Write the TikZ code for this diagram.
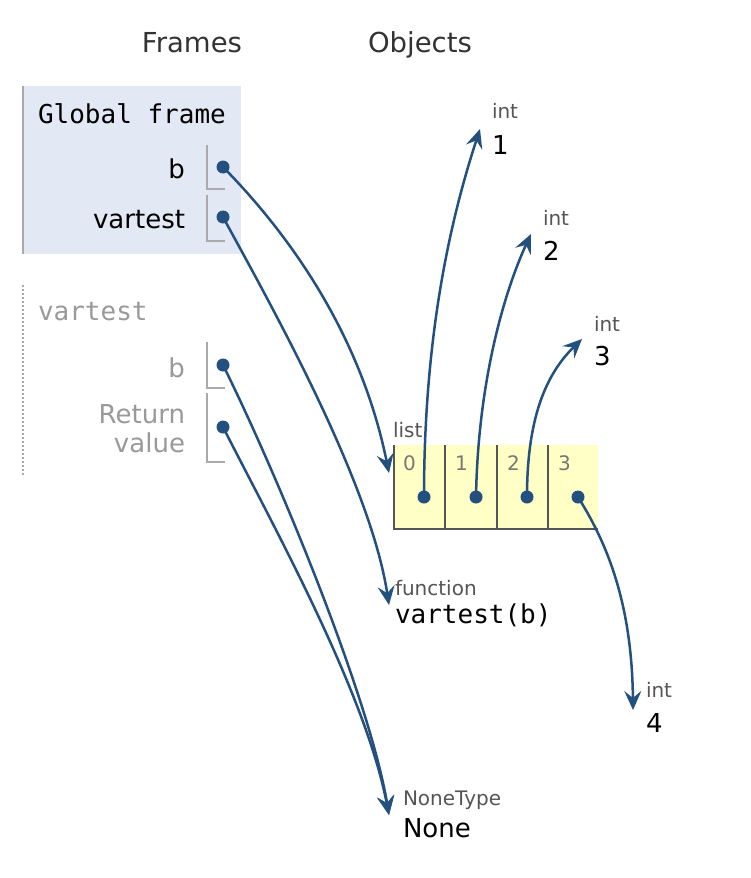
\documentclass[tikz,border=0pt]{standalone}
\usepackage{fontspec}
\setmainfont{DejaVu Sans}
\setmonofont{DejaVu Sans Mono}
\usetikzlibrary{arrows.meta}
\definecolor{arrowc}{HTML}{23507F}
\definecolor{framebg}{HTML}{E2E9F4}
\definecolor{brk}{HTML}{AAAAAA}
\definecolor{listfill}{HTML}{FFFFC6}
\definecolor{listline}{HTML}{555555}
\definecolor{typec}{HTML}{555555}
\definecolor{idxc}{HTML}{777777}
\definecolor{stalec}{HTML}{999999}
\definecolor{hdrc}{HTML}{333333}
\tikzset{reftip/.tip={Stealth[length=19pt,width=17pt,inset=7pt]}}
\begin{document}
\begin{tikzpicture}[x=1pt,y=-1pt,
  every node/.style={inner sep=0pt, outer sep=0pt},
  bigtext/.style={font=\fontsize{26}{30}\selectfont},
  monotext/.style={font=\ttfamily\fontsize{26}{30}\selectfont},
  typelabel/.style={font=\fontsize{20}{24}\selectfont, text=typec, anchor=base west},
  idxlabel/.style={font=\fontsize{20}{24}\selectfont, text=idxc, anchor=base west},
  hdr/.style={font=\fontsize{27.5}{32}\selectfont, text=hdrc, anchor=base},
  bracket/.style={draw=brk, line width=2.2pt},
  dot/.style={circle, fill=arrowc, minimum size=13pt},
  ref/.style={draw=arrowc, line width=2.5pt, -reftip},
  lline/.style={draw=listline, line width=2.8pt}
]
\useasboundingbox (0,0) rectangle (750,878);

% headers
\node[hdr] (hframes) at (192,52) {Frames};
\node[hdr] (hobjects) at (420,52) {Objects};

% global frame
\fill[framebg] (22,86) rectangle (241,254);
\draw[draw=brk, line width=2.2pt] (23,86) -- (23,254);
\node[monotext, anchor=base west] (gframe) at (38,123) {Global frame};
\node[bigtext, anchor=base east] (gbname) at (185,178) {b};
\node[bigtext, anchor=base east] (gvname) at (185,228) {vartest};
\draw[bracket] (207,145) -- (207,189) -- (225,189);
\draw[bracket] (207,195) -- (207,241) -- (225,241);
\node[dot] (gb) at (223,167) {};
\node[dot] (gv) at (223,217) {};

% vartest frame
\draw[draw=brk, line width=2.2pt, dash pattern=on 2pt off 2pt] (23,285) -- (23,475);
\node[monotext, text=stalec, anchor=base west] (vframe) at (38,320) {vartest};
\node[bigtext, text=stalec, anchor=base east] (vbname) at (185,377) {b};
\node[bigtext, text=stalec, anchor=base east] (vrname1) at (185,423) {Return};
\node[bigtext, text=stalec, anchor=base east] (vrname2) at (185,452) {value};
\draw[bracket] (207,342) -- (207,388) -- (225,388);
\draw[bracket] (207,393) -- (207,462) -- (225,462);
\node[dot] (vb) at (223,365) {};
\node[dot] (vr) at (223,427) {};

% list
\node[typelabel] (listlbl) at (393,437) {list};
\node[fill=listfill, minimum width=204pt, minimum height=84pt] (lst) at (496,487) {};
\draw[lline] (394,445) -- (394,529) -- (598,529);
\draw[lline] (445,445) -- (445,529);
\draw[lline] (497,445) -- (497,529);
\draw[lline] (548,445) -- (548,529);
\node[idxlabel] (i0) at (403,470) {0};
\node[idxlabel] (i1) at (455,470) {1};
\node[idxlabel] (i2) at (507,470) {2};
\node[idxlabel] (i3) at (558,470) {3};
\node[dot] (e0) at (424,497) {};
\node[dot] (e1) at (476,497) {};
\node[dot] (e2) at (527,497) {};
\node[dot] (e3) at (578,497) {};

% ints
\node[typelabel] (int1t) at (492,118) {int};
\node[bigtext, anchor=base west] (int1) at (492,154) {1};
\node[typelabel] (int2t) at (543,225) {int};
\node[bigtext, anchor=base west] (int2) at (543,260) {2};
\node[typelabel] (int3t) at (594,331) {int};
\node[bigtext, anchor=base west] (int3) at (594,365) {3};
\node[typelabel] (int4t) at (646,697) {int};
\node[bigtext, anchor=base west] (int4) at (646,732) {4};

% function
\node[typelabel] (funt) at (395,595) {function};
\node[monotext, anchor=base west] (fun) at (395,623) {vartest(b)};

% None
\node[typelabel] (nonet) at (403,805) {NoneType};
\node[bigtext, anchor=base west] (none) at (403,837) {None};

% targets
\coordinate (tlist) at (389,473);
\coordinate (tfun) at (389,605);
\coordinate (tnone) at (389,815);
\coordinate (t1) at (480,129);
\coordinate (t2) at (531,234);
\coordinate (t3) at (582,339);
\coordinate (t4) at (633,710);

% connectors
\draw[ref] (gb.center) .. controls (285,230) and (360,330) .. (tlist);
\draw[ref] (gv.center) .. controls (268,300) and (370,480) .. (tfun);
\draw[ref] (vb.center) .. controls (280,480) and (370,700) .. (tnone);
\draw[ref] (vr.center) .. controls (270,520) and (365,690) .. (tnone);
\draw[ref] (e0.center) .. controls (424,330) and (452,215) .. (t1);
\draw[ref] (e1.center) .. controls (478,380) and (505,290) .. (t2);
\draw[ref] (e2.center) .. controls (527,420) and (545,375) .. (t3);
\draw[ref] (e3.center) .. controls (605,540) and (632,600) .. (t4);
\end{tikzpicture}
\end{document}
